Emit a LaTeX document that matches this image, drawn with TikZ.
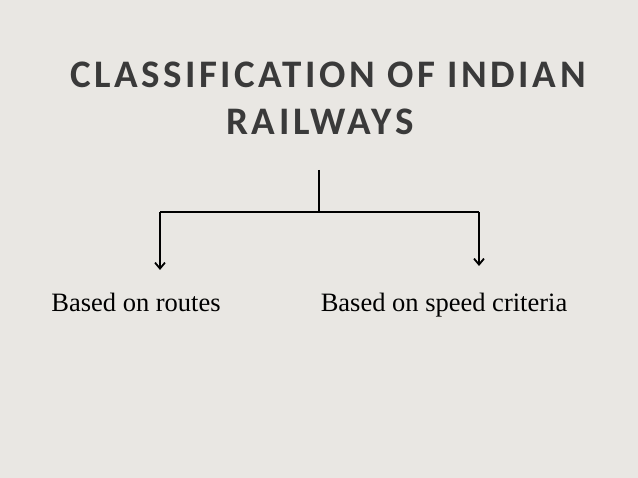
\documentclass[tikz,border=0pt]{standalone}
\usepackage{fontspec}
\setsansfont{Carlito}
\setmainfont{Liberation Serif}
\usetikzlibrary{arrows.meta}
\definecolor{bg}{HTML}{E9E7E3}
\definecolor{tt}{HTML}{3A3A3A}
\tikzset{x=1pt,y=-1pt,
 title/.style={font=\sffamily\bfseries\fontsize{39}{41}\selectfont\addfontfeature{LetterSpace=9},text=tt},
 lbl/.style={font=\fontsize{26.5}{28}\selectfont,text=black,anchor=base},
 conn/.style={line width=1.8pt,black},
 arr/.style={conn,-{Straight Barb[length=6pt,width=10pt]}}}
\begin{document}
\begin{tikzpicture}
\fill[bg] (0,0) rectangle (638,478);
\useasboundingbox (0,0) rectangle (638,478);
\node[title] (t1) at (328,75) {CLASSIFICATION OF INDIAN};
\node[title] (t2) at (320,122) {RAILWAYS};
\coordinate (top) at (319,170);
\coordinate (mid) at (319,212);
\coordinate (l) at (160,212);
\coordinate (r) at (479,212);
\node[lbl] (a) at (136,312) {Based on routes};
\node[lbl] (b) at (444,312) {Based on speed criteria};
\draw[conn] (top) -- (mid);
\draw[conn] (l) -- (r);
\draw[arr] (l) -- (160,270);
\draw[arr] (r) -- (479,266);
\end{tikzpicture}
\end{document}
